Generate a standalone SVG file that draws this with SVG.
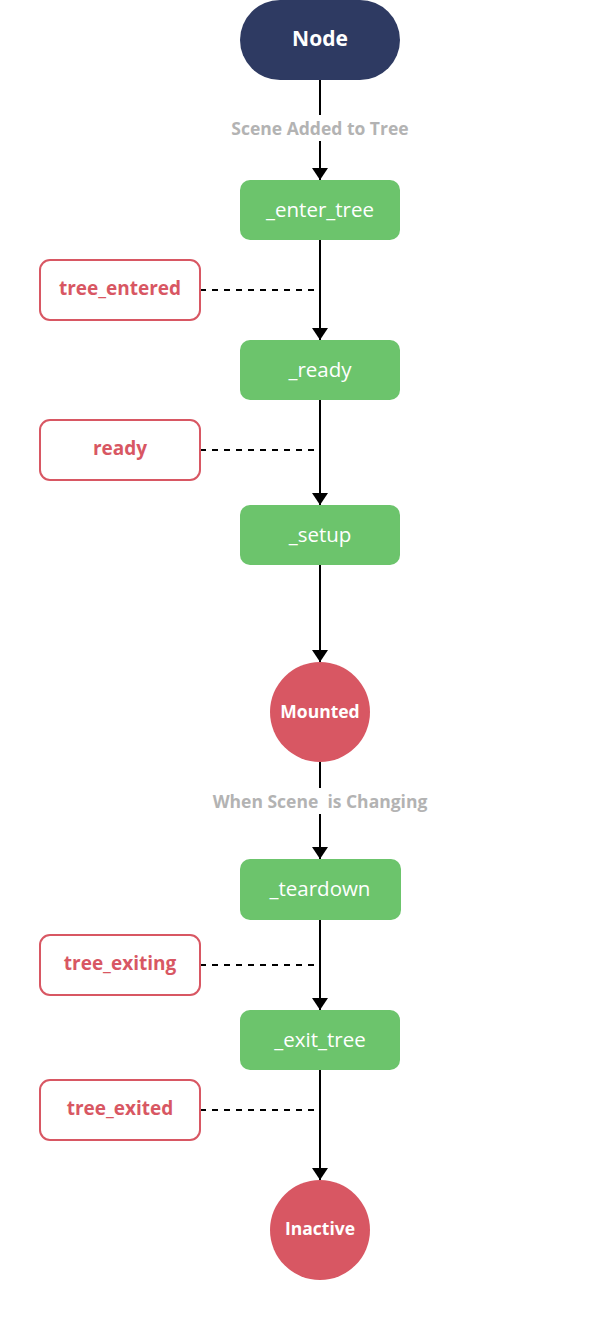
<svg xmlns="http://www.w3.org/2000/svg" width="601" height="1320" viewBox="0 0 601 1320">
<style>
.step{fill:#6cc46c}
.steptxt{font-family:"Open Sans",sans-serif;font-size:20.5px;fill:#fff;text-anchor:middle;dominant-baseline:central}
.sig{fill:#fff;stroke:#d85763;stroke-width:2}
.sigtxt{font-family:"Open Sans",sans-serif;font-size:19px;font-weight:bold;fill:#d85763;text-anchor:middle;dominant-baseline:central}
.state{fill:#d85763}
.statetxt{font-family:"Open Sans",sans-serif;font-size:17.5px;font-weight:bold;fill:#fff;text-anchor:middle;dominant-baseline:central}
.edge{stroke:#000;stroke-width:2;fill:none}
.dash{stroke:#000;stroke-width:2;fill:none;stroke-dasharray:6 6}
.elbl{font-family:"Open Sans",sans-serif;font-size:17.5px;font-weight:bold;fill:#b3b3b3;text-anchor:middle;dominant-baseline:central}
</style>
<defs>
<marker id="arr" viewBox="0 0 12 16" refX="12" refY="8" markerWidth="12" markerHeight="16" markerUnits="userSpaceOnUse" orient="auto">
<path d="M0,0 L12,8 L0,16 z" fill="#000"/>
</marker>
</defs>
<rect width="601" height="1320" fill="#fff"/>
<g id="connectors">
<line class="edge" x1="320" y1="80" x2="320" y2="180" marker-end="url(#arr)"/>
<line class="edge" x1="320" y1="240" x2="320" y2="340" marker-end="url(#arr)"/>
<line class="edge" x1="320" y1="400" x2="320" y2="505" marker-end="url(#arr)"/>
<line class="edge" x1="320" y1="565" x2="320" y2="662" marker-end="url(#arr)"/>
<line class="edge" x1="320" y1="762" x2="320" y2="859" marker-end="url(#arr)"/>
<line class="edge" x1="320" y1="920" x2="320" y2="1010" marker-end="url(#arr)"/>
<line class="edge" x1="320" y1="1070" x2="320" y2="1180" marker-end="url(#arr)"/>
<line class="dash" x1="200" y1="290" x2="320" y2="290"/>
<line class="dash" x1="200" y1="450" x2="320" y2="450"/>
<line class="dash" x1="200" y1="965" x2="320" y2="965"/>
<line class="dash" x1="200" y1="1110" x2="320" y2="1110"/>
<rect x="225" y="115" width="190" height="26" fill="#fff"/>
<text class="elbl" x="320" y="128">Scene Added to Tree</text>
<rect x="205" y="788" width="230" height="26" fill="#fff"/>
<text class="elbl" x="320" y="801" xml:space="preserve">When Scene  is Changing</text>
</g>
<g id="node-node">
<rect x="240" y="0" width="160" height="80" rx="40" fill="#2e3a62"/>
<text x="320" y="38" font-family="Open Sans, sans-serif" font-size="21" font-weight="bold" fill="#fff" text-anchor="middle" dominant-baseline="central">Node</text>
</g>
<g id="node-enter_tree"><rect class="step" x="240" y="180" width="160" height="60" rx="10"/><text class="steptxt" x="320" y="209">_enter_tree</text></g>
<g id="node-tree_entered"><rect class="sig" x="40" y="260" width="160" height="60" rx="10"/><text class="sigtxt" x="120" y="288">tree_entered</text></g>
<g id="node-ready"><rect class="step" x="240" y="340" width="160" height="60" rx="10"/><text class="steptxt" x="320" y="369">_ready</text></g>
<g id="node-ready-signal"><rect class="sig" x="40" y="420" width="160" height="60" rx="10"/><text class="sigtxt" x="120" y="448">ready</text></g>
<g id="node-setup"><rect class="step" x="240" y="505" width="160" height="60" rx="10"/><text class="steptxt" x="320" y="534">_setup</text></g>
<g id="node-mounted"><circle class="state" cx="320" cy="712" r="50"/><text class="statetxt" x="320" y="711">Mounted</text></g>
<g id="node-teardown"><rect class="step" x="240" y="859" width="161" height="61" rx="10"/><text class="steptxt" x="320" y="888">_teardown</text></g>
<g id="node-tree_exiting"><rect class="sig" x="40" y="935" width="160" height="60" rx="10"/><text class="sigtxt" x="120" y="963">tree_exiting</text></g>
<g id="node-exit_tree"><rect class="step" x="240" y="1010" width="160" height="60" rx="10"/><text class="steptxt" x="320" y="1039">_exit_tree</text></g>
<g id="node-tree_exited"><rect class="sig" x="40" y="1080" width="160" height="60" rx="10"/><text class="sigtxt" x="120" y="1108">tree_exited</text></g>
<g id="node-inactive"><circle class="state" cx="320" cy="1230" r="50"/><text class="statetxt" x="320" y="1228">Inactive</text></g>
</svg>
